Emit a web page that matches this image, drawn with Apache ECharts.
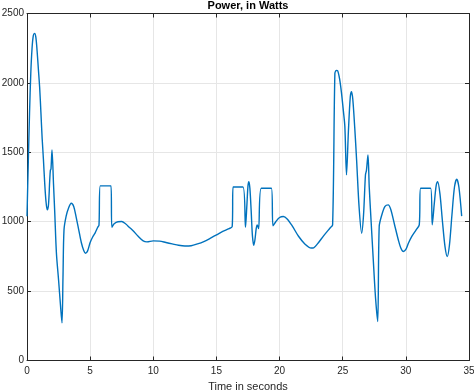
<!DOCTYPE html>
<html>
<head>
<meta charset="utf-8">
<script src="https://cdn.jsdelivr.net/npm/echarts@6/dist/echarts.min.js"></script>
<style>
  html, body { margin: 0; padding: 0; background: #fff; }
  #chart { width: 474px; height: 391px; }
</style>
</head>
<body>
<div id="chart"></div>
<script>
// tiempo en segundos
const timeSec = [
  0, 0.1, 0.2, 0.3, 0.4, 0.5, 0.6, 0.7, 0.8, 0.9, 1.0, 1.1, 1.2, 1.3, 1.4, 1.5, 1.6, 1.7, 1.8, 1.85, 1.9, 1.98,
  2.1, 2.2, 2.33, 2.5, 2.65, 2.77, 2.85, 2.93, 3.1, 3.3, 3.5, 3.7, 3.9, 4.1, 4.3, 4.5, 4.63, 4.8, 5.0, 5.2, 5.4, 5.6, 5.7,
  5.8, 6.65, 6.72, 6.9, 7.2, 7.5, 7.8, 8.1, 8.4, 8.8, 9.2, 9.5, 10.0, 10.5, 11.0, 11.5, 12.0, 12.5, 13.0, 13.5,
  14.0, 14.5, 15.0, 15.5, 16.0, 16.25, 16.32, 17.1, 17.3, 17.4, 17.5, 17.57, 17.65, 17.75, 17.85, 17.96, 18.05,
  18.15, 18.23, 18.34, 18.55, 19.35, 19.48, 19.7, 20.0, 20.3, 20.6, 21.0, 21.5, 22.0, 22.5, 22.7, 23.0, 23.5, 24.0,
  24.2, 24.38, 24.5, 24.6, 24.75, 24.9, 25.05, 25.17, 25.3, 25.45, 25.6, 25.7, 25.8, 25.95, 26.1, 26.3, 26.5, 26.65,
  26.8, 26.88, 27.0, 27.1, 27.25, 27.42, 27.6, 27.77, 27.89, 28.1, 28.35, 28.6, 28.8, 29.1, 29.4, 29.6, 29.8, 30.0,
  30.2, 30.46, 30.8, 31.06, 31.17, 31.96, 32.09, 32.25, 32.4, 32.52, 32.7, 32.9, 33.1, 33.28, 33.45, 33.65, 33.85,
  34.03, 34.2, 34.42
];

// potencia en vatios
const powerW = [
  1040, 1420, 1780, 2070, 2250, 2340, 2357, 2330, 2230, 2100, 1970, 1790, 1600, 1450, 1280, 1150, 1085, 1120, 1300, 1370, 1380, 1517,
  1270, 1060, 773, 580, 400, 271, 600, 941, 1040, 1100, 1133, 1110, 1030, 940, 850, 790, 773, 790, 850, 890, 920, 960, 975,
  1258, 1258, 960, 985, 1000, 1001, 985, 960, 935, 895, 862, 855, 862, 860, 850, 840, 830, 825, 827, 840,
  857, 880, 905, 930, 950, 965, 1250, 1250, 960, 1100, 1260, 1289, 1240, 1080, 900, 830, 870,
  950, 977, 950, 1241, 1241, 970, 1000, 1030, 1037, 1020, 970, 895, 840, 810, 812, 840, 900, 955,
  977, 2069, 2090, 2088, 2030, 1930, 1800, 1685, 1337, 1650, 1900, 1937, 1880, 1680, 1445, 1100, 917, 1050,
  1337, 1370, 1481, 1250, 1000, 725, 450, 281, 965, 1050, 1110, 1121, 1090, 980, 870, 810, 785, 800,
  845, 893, 940, 977, 1241, 1241, 977, 1130, 1260, 1289, 1200, 1000, 820, 749, 830, 1050, 1250,
  1306, 1250, 1040
];

const xTicks = [0, 5, 10, 15, 20, 25, 30, 35];
const yTicks = [0, 500, 1000, 1500, 2000, 2500];

const chart = echarts.init(document.getElementById('chart'));

const axisColor = '#262626';
const gridColor = '#e6e6e6';
const fontFam = '"Liberation Sans", Arial, sans-serif';

const baseAxis = {
  type: 'value',
  axisLine: { show: true, onZero: false, lineStyle: { color: axisColor, width: 1 } },
  axisTick: { show: true, inside: true, length: 4, lineStyle: { color: axisColor } },
  splitLine: { show: false }
};

chart.setOption({
  animation: false,
  backgroundColor: '#fff',
  grid: { left: 27, right: 5, top: 13.5, bottom: 30.5, containLabel: false, outerBoundsMode: 'none' },
  xAxis: [
    Object.assign({}, baseAxis, {
      position: 'bottom',
      min: xTicks[0], max: xTicks[xTicks.length - 1], interval: 5,
      name: 'Time in seconds',
      nameLocation: 'middle',
      nameGap: 17,
      nameTextStyle: { color: axisColor, fontSize: 11, fontFamily: fontFam },
      axisLabel: { color: axisColor, fontSize: 10, fontFamily: fontFam, margin: 6 },
      splitLine: { show: true, lineStyle: { color: gridColor, width: 1 } }
    }),
    Object.assign({}, baseAxis, {
      position: 'top',
      min: xTicks[0], max: xTicks[xTicks.length - 1], interval: 5,
      name: 'Power, in Watts',
      nameLocation: 'middle',
      nameGap: 2,
      nameTextStyle: { color: '#000', fontSize: 11, fontWeight: 'bold', fontFamily: fontFam },
      axisLabel: { show: false }
    })
  ],
  yAxis: [
    Object.assign({}, baseAxis, {
      position: 'left',
      min: yTicks[0], max: yTicks[yTicks.length - 1], interval: 500,
      axisLabel: {
        color: axisColor, fontSize: 10, fontFamily: fontFam, margin: 3,
        formatter: v => String(v)
      },
      splitLine: { show: true, lineStyle: { color: gridColor, width: 1 } }
    }),
    Object.assign({}, baseAxis, {
      position: 'right',
      min: yTicks[0], max: yTicks[yTicks.length - 1], interval: 500,
      axisLabel: { show: false }
    })
  ],
  series: [
    {
      type: 'line',
      data: timeSec.map((t, i) => [t, powerW[i]]),
      showSymbol: false,
      smooth: 0.3,
      lineStyle: { color: '#0072BD', width: 1.4 },
      xAxisIndex: 0,
      yAxisIndex: 0
    }
  ]
});
</script>
</body>
</html>
